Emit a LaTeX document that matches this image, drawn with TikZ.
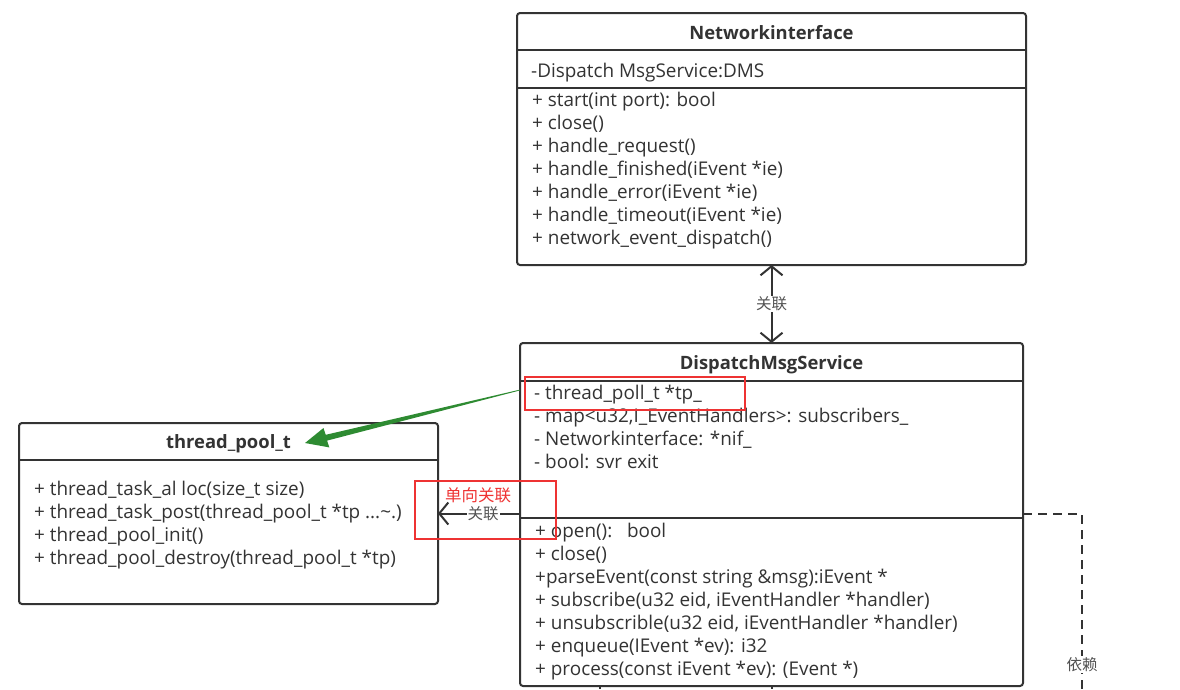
\documentclass[tikz,border=0pt]{standalone}
\usepackage{fontspec}
\setmainfont{Open Sans}
\newfontfamily\cjk{Noto Sans CJK SC}
\usetikzlibrary{arrows.meta}
\definecolor{ink}{HTML}{333333}
\definecolor{redbox}{HTML}{EE3333}
\definecolor{greenarrow}{HTML}{2E8B32}
\tikzset{
  classbox/.style={draw=ink, line width=2pt, rounded corners=3pt, inner sep=0pt, outer sep=0pt},
  sep/.style={draw=ink, line width=1.6pt},
  txt/.style={anchor=west, inner sep=0pt, text height=14pt, text depth=4pt, text=ink, font=\fontsize{18.9}{21}\selectfont},
  ttl/.style={inner sep=0pt, text height=14pt, text depth=4pt, text=ink, font=\fontsize{18.4}{21}\selectfont\bfseries},
  lbl/.style={fill=white, inner sep=1pt, text=ink!85, font=\cjk\fontsize{15.5}{17}\selectfont},
  barb/.tip={Straight Barb[length=9pt, width=22pt, line width=2pt]},
  assoc/.style={draw=ink, line width=2pt},
  redmark/.style={draw=redbox, line width=2pt},
}
\begin{document}
\begin{tikzpicture}[x=1pt,y=-1pt]
\useasboundingbox (0,0) rectangle (1180,689);

% ---------- Networkinterface ----------
\node[classbox, minimum width=509pt, minimum height=252pt] (ni) at (771.5,139) {};
\draw[sep] (517,50) -- (1026,50);
\draw[sep] (517,88) -- (1026,88);
\node[ttl] (nit) at (771.5,34) {Networkinterface};
\node[txt] (nia) at (531,72) {-Dispatch MsgService:DMS};
\node[txt] (nim1) at (532,101) {+ start(int port): bool};
\node[txt] (nim2) at (532,124) {+ close()};
\node[txt] (nim3) at (532,147) {+ handle\_request()};
\node[txt] (nim4) at (532,170) {+ handle\_finished(iEvent *ie)};
\node[txt] (nim5) at (532,193) {+ handle\_error(iEvent *ie)};
\node[txt] (nim6) at (532,216) {+ handle\_timeout(iEvent *ie)};
\node[txt] (nim7) at (532,239) {+ network\_event\_dispatch()};

% ---------- DispatchMsgService ----------
\node[classbox, minimum width=503pt, minimum height=343pt] (dms) at (771.5,514.5) {};
\draw[sep] (520,381) -- (1023,381);
\draw[sep] (520,518) -- (1023,518);
\node[ttl] (dmst) at (771.5,364) {DispatchMsgService};
\node[txt] (dmsa1) at (534,394) {- thread\_poll\_t *tp\_};
\node[txt] (dmsa2) at (534,417) {- map<u32,I\_EventHandlers>: subscribers\_};
\node[txt] (dmsa3) at (534,440) {- Networkinterface: *nif\_};
\node[txt] (dmsa4) at (534,463) {- bool: svr exit};
\node[txt] (dmsm1) at (535,532) {+ open():\ \ \ bool};
\node[txt] (dmsm2) at (535,555) {+ close()};
\node[txt] (dmsm3) at (535,578) {+parseEvent(const string \&msg):iEvent *};
\node[txt] (dmsm4) at (535,601) {+ subscribe(u32 eid, iEventHandler *handler)};
\node[txt] (dmsm5) at (535,624) {+ unsubscrible(u32 eid, iEventHandler *handler)};
\node[txt] (dmsm6) at (535,647) {+ enqueue(IEvent *ev): i32};
\node[txt] (dmsm7) at (535,670) {+ process(const iEvent *ev): (Event *)};

% ---------- thread_pool_t ----------
\node[classbox, minimum width=419pt, minimum height=181pt] (tp) at (228.5,513.5) {};
\draw[sep] (19,460) -- (438,460);
\node[ttl] (tpt) at (228.5,443) {thread\_pool\_t};
\node[txt] (tpm1) at (34,490) {+ thread\_task\_al loc(size\_t size)};
\node[txt] (tpm2) at (34,513) {+ thread\_task\_post(thread\_pool\_t *tp ...\textasciitilde.)};
\node[txt] (tpm3) at (34,536) {+ thread\_pool\_init()};
\node[txt] (tpm4) at (34,559) {+ thread\_pool\_destroy(thread\_pool\_t *tp)};

% ---------- connectors ----------
\draw[assoc, barb-barb] (ni.south) -- node[lbl] (l1) {关联} (dms.north);
\draw[assoc, -barb] (dms.west |- tp.east) -- node[lbl, pos=0.45] (l2) {关联} (tp.east);
\coordinate (dep1) at (1082,514);
\coordinate (dep2) at (1082,689);
\draw[assoc, dash pattern=on 9pt off 6pt] (dms.east |- dep1) -- (dep1) -- node[lbl, pos=0.86] (l3) {依赖} (dep2);
% stubs leaving bottom of DispatchMsgService
\coordinate (s1) at (600,689);
\coordinate (s2) at (772,689);
\draw[assoc, line width=1.5pt] (dms.south -| s1) -- (s1);
\draw[assoc, line width=1.5pt] (dms.south -| s2) -- (s2);

% ---------- annotations ----------
\node[redmark, minimum width=220pt, minimum height=33pt, inner sep=0pt] (r1) at (635,393.5) {};
\node[redmark, minimum width=141pt, minimum height=58pt, inner sep=0pt] (r2) at (485.5,510) {};
\node[text=redbox, inner sep=0pt, font=\cjk\fontsize{16.5}{18}\selectfont] (l4) at (478,495) {单向关联};
\fill[greenarrow] (520,389.6) -- (325.7,434.8) -- (323.5,428.0) -- (305,443) -- (329.3,447.4) -- (327.1,440.6) -- (520,390.4) -- cycle;
\end{tikzpicture}
\end{document}
